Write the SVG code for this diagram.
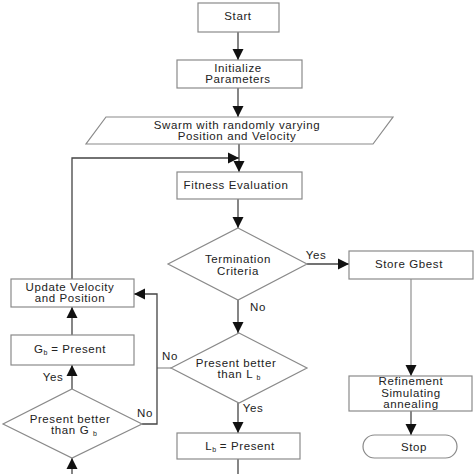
<svg xmlns="http://www.w3.org/2000/svg" width="474" height="474" viewBox="0 0 474 474">
<style>
  .box{fill:#fff;stroke:#8a8a8a;stroke-width:1.2}
  .ln{fill:none;stroke:#444;stroke-width:1.3}
  .ln2{fill:none;stroke:#999;stroke-width:1.3}
  text{font-family:"Liberation Sans",Arial,sans-serif;font-size:11.5px;fill:#222;letter-spacing:0.6px;text-anchor:middle}
  .sub{font-size:7px;letter-spacing:0}
</style>
<defs>
  <marker id="ah" viewBox="0 0 10 10" refX="10" refY="5" markerWidth="11" markerHeight="12" orient="auto" markerUnits="userSpaceOnUse">
    <path d="M0,0 L10,5 L0,10 z" fill="#111"/>
  </marker>
</defs>
<rect width="474" height="474" fill="#fff"/>

<g id="connectors">
  <path class="ln" d="M238,32 V60" marker-end="url(#ah)"/>
  <path class="ln" d="M238,88 V117" marker-end="url(#ah)"/>
  <path class="ln" d="M239,144 V172" marker-end="url(#ah)"/>
  <path class="ln" d="M72,279 V158 H239" marker-end="url(#ah)"/>
  <path class="ln" d="M238,199 V228" marker-end="url(#ah)"/>
  <path class="ln" d="M307,264 H349" marker-end="url(#ah)"/>
  <path class="ln2" d="M411,279 V376" marker-end="url(#ah)"/>
  <path class="ln" d="M411,411 V435" marker-end="url(#ah)"/>
  <path class="ln" d="M238,300 V333" marker-end="url(#ah)"/>
  <path class="ln" d="M238,403 V433" marker-end="url(#ah)"/>
  <path class="ln" d="M238,459 V474"/>
  <path class="ln2" d="M171,368 H157"/>
  <path class="ln" d="M142,424 H157 V294 H134" marker-end="url(#ah)"/>
  <path class="ln" d="M72,389 V365" marker-end="url(#ah)"/>
  <path class="ln" d="M72,335 V307" marker-end="url(#ah)"/>
  <path class="ln" d="M72,474 V458" marker-end="url(#ah)"/>
  <text x="316" y="259">Yes</text>
  <text x="258" y="311">No</text>
  <text x="253" y="412">Yes</text>
  <text x="170" y="360">No</text>
  <text x="145" y="417">No</text>
  <text x="53" y="381">Yes</text>
</g>

<g id="start">
  <rect class="box" x="198" y="3" width="81" height="29"/>
  <text x="238" y="20">Start</text>
</g>
<g id="init">
  <rect class="box" x="177" y="60" width="125" height="28"/>
  <text x="238" y="72">Initialize</text>
  <text x="238" y="83">Parameters</text>
</g>
<g id="swarm">
  <polygon class="box" points="106,117 393,117 373,144 86,144"/>
  <text x="237" y="129">Swarm with randomly varying</text>
  <text x="237" y="140">Position and Velocity</text>
</g>
<g id="fitness">
  <rect class="box" x="177" y="172" width="125" height="27"/>
  <text x="236" y="189">Fitness Evaluation</text>
</g>
<g id="termination">
  <polygon class="box" points="238,228 307,264 238,300 168,264"/>
  <text x="238" y="263">Termination</text>
  <text x="238" y="275">Criteria</text>
</g>
<g id="store">
  <rect class="box" x="349" y="251" width="124" height="28"/>
  <text x="409" y="268">Store Gbest</text>
</g>
<g id="refinement">
  <rect class="box" x="349" y="376" width="123" height="35"/>
  <text x="411" y="385">Refinement</text>
  <text x="411" y="397">Simulating</text>
  <text x="411" y="408">annealing</text>
</g>
<g id="stop">
  <rect class="box" x="363" y="435" width="94" height="23" rx="11.5" ry="11.5"/>
  <text x="414" y="451">Stop</text>
</g>
<g id="update">
  <rect class="box" x="11" y="279" width="123" height="28"/>
  <text x="70" y="291">Update Velocity</text>
  <text x="70" y="302">and Position</text>
</g>
<g id="gb-present">
  <rect class="box" x="11" y="335" width="123" height="30"/>
  <text x="70" y="353">G<tspan class="sub" dy="2">b</tspan><tspan dy="-2"> = Present</tspan></text>
</g>
<g id="gb-decision">
  <polygon class="box" points="72,389 142,424 72,458 3,424"/>
  <text x="70" y="423">Present better</text>
  <text x="74" y="434">than G <tspan class="sub" dy="2">b</tspan></text>
</g>
<g id="lb-decision">
  <polygon class="box" points="239,333 307,368 239,403 171,368"/>
  <text x="236" y="367">Present better</text>
  <text x="239" y="378">than L <tspan class="sub" dy="2">b</tspan></text>
</g>
<g id="lb-present">
  <rect class="box" x="177" y="433" width="123" height="26"/>
  <text x="240" y="450">L<tspan class="sub" dy="2">b</tspan><tspan dy="-2"> = Present</tspan></text>
</g>
</svg>
